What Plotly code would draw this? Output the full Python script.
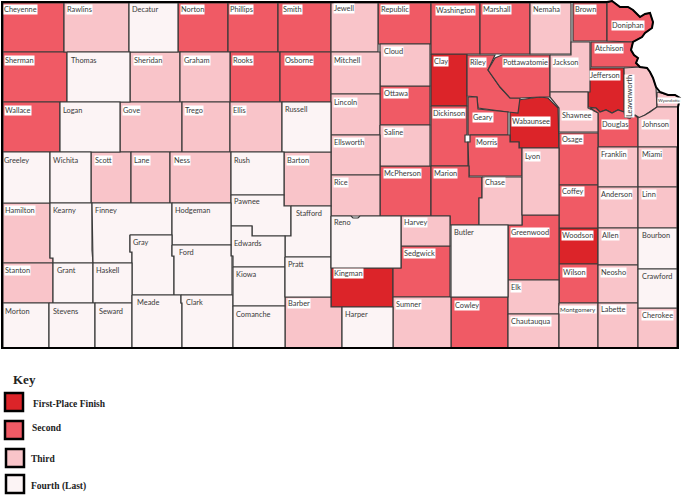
import plotly.graph_objects as go

# results by county: which place each one finished in
first_place = ["Clay", "Wabaunsee", "Jefferson", "Kingman", "Woodson"]
second_place = ["Cheyenne", "Norton", "Phillips", "Smith", "Republic", "Washington", "Marshall",
                "Brown", "Doniphan", "Sherman", "Rooks", "Osborne", "Ottawa", "Riley",
                "Pottawatomie", "Atchison", "Wallace", "Dickinson", "Geary", "Morris",
                "McPherson", "Marion", "Douglas", "Osage", "Coffey", "Wilson", "Greenwood",
                "Sedgwick", "Cowley"]
third_place = ["Rawlins", "Jewell", "Nemaha", "Cloud", "Mitchell", "Jackson", "Sheridan", "Graham",
               "Lincoln", "Saline", "Ellsworth", "Rice", "Gove", "Trego", "Ellis", "Scott", "Lane",
               "Ness", "Barton", "Hamilton", "Stanton", "Barber", "Harvey", "Sumner", "Chase",
               "Lyon", "Shawnee", "Leavenworth", "Wyandotte", "Johnson", "Franklin", "Miami",
               "Anderson", "Linn", "Allen", "Neosho", "Elk", "Chautauqua", "Montgomery",
               "Labette", "Cherokee"]
fourth_place = ["Decatur", "Thomas", "Logan", "Russell", "Greeley", "Wichita", "Rush", "Pawnee",
                "Stafford", "Edwards", "Kearny", "Finney", "Hodgeman", "Gray", "Ford", "Grant",
                "Haskell", "Morton", "Stevens", "Seward", "Meade", "Clark", "Kiowa", "Comanche",
                "Pratt", "Reno", "Harper", "Butler", "Bourbon", "Crawford"]

key_labels = ["First-Place Finish", "Second", "Third", "Fourth (Last)"]
key_colors = ["#DC2429", "#F05A65", "#F9C4C9", "#FCF4F5"]


def box(x0, y0, x1, y1):
    return [(x0, y0), (x1, y0), (x1, y1), (x0, y1)]


# county outlines (no county geojson offline)
shapes = {
    "Cheyenne": box(3, 3, 64, 52), "Rawlins": box(64, 3, 129, 52), "Decatur": box(129, 3, 178, 52),
    "Norton": box(178, 3, 228, 52), "Phillips": box(228, 3, 278, 52), "Smith": box(278, 3, 331, 52),
    "Jewell": box(331, 3, 378, 52), "Republic": box(378, 3, 431, 44),
    "Washington": box(431, 3, 480, 54), "Marshall": box(480, 3, 530, 54), "Nemaha": box(530, 3, 571, 54),
    "Brown": box(573, 3, 607, 41),
    "Doniphan": [(607, 3), (612, 1), (620, 7), (628, 7), (633, 10), (640, 17), (645, 14), (650, 13),
                 (653, 22), (652, 28), (645, 33), (642, 37), (633, 42), (607, 41)],
    "Sherman": box(3, 52, 67, 102), "Thomas": box(67, 52, 130, 102), "Sheridan": box(130, 52, 180, 102),
    "Graham": box(180, 52, 230, 102), "Rooks": box(230, 52, 280, 102), "Osborne": box(280, 52, 331, 102),
    "Mitchell": box(331, 52, 380, 94), "Cloud": box(380, 44, 430, 86), "Ottawa": box(380, 86, 430, 125),
    "Clay": box(431, 54, 467, 106),
    "Riley": [(467, 55), (495, 55), (488, 70), (500, 87), (510, 98), (520, 98), (518, 113), (508, 112),
              (478, 108), (477, 97), (467, 96)],
    "Pottawatomie": [(502, 55), (550, 55), (550, 97), (540, 97), (520, 98), (510, 98), (500, 87),
                     (488, 70), (495, 58)],
    "Jackson": [(550, 55), (571, 55), (571, 42), (590, 42), (590, 92), (550, 92)],
    "Atchison": [(591, 42), (633, 42), (631, 50), (634, 55), (638, 58), (636, 63), (640, 67), (591, 67)],
    "Jefferson": [(588, 68), (624, 68), (624, 112), (618, 110), (612, 113), (606, 110), (600, 112),
                  (596, 108), (588, 107)],
    "Leavenworth": [(624, 68), (640, 67), (647, 68), (650, 72), (653, 78), (656, 87), (657, 107),
                    (650, 112), (645, 115), (640, 118), (635, 115), (630, 118), (625, 117)],
    "Wyandotte": [(657, 92), (668, 95), (675, 95), (680, 98), (678, 107), (657, 107)],
    "Wallace": box(3, 102, 60, 152), "Logan": box(60, 102, 120, 152), "Gove": box(120, 102, 182, 152),
    "Trego": box(182, 102, 230, 152), "Ellis": box(230, 102, 282, 152), "Russell": box(282, 102, 331, 152),
    "Lincoln": box(331, 94, 380, 135), "Ellsworth": box(331, 135, 380, 175), "Saline": box(380, 125, 430, 166),
    "Dickinson": [(431, 106), (467, 106), (467, 135), (465, 135), (465, 142), (468, 142), (468, 166), (431, 166)],
    "Geary": [(468, 97), (477, 97), (478, 109), (508, 112), (508, 135), (470, 135), (468, 135)],
    "Morris": [(470, 135), (510, 135), (510, 142), (519, 142), (519, 148), (522, 148), (522, 176),
               (469, 176), (468, 142), (470, 142)],
    "Wabaunsee": [(510, 113), (518, 100), (540, 97), (548, 98), (558, 108), (559, 148), (519, 148),
                  (519, 142), (510, 142)],
    "Shawnee": [(550, 92), (588, 92), (588, 108), (598, 113), (598, 132), (559, 132), (559, 108), (550, 97)],
    "Douglas": [(590, 108), (596, 108), (600, 112), (606, 110), (612, 113), (618, 110), (624, 112),
                (625, 117), (630, 118), (635, 115), (638, 118), (638, 147), (598, 147), (598, 113)],
    "Johnson": [(638, 118), (645, 115), (650, 112), (657, 107), (678, 107), (678, 147), (638, 147)],
    "Greeley": box(3, 152, 50, 203), "Wichita": box(50, 152, 91, 203), "Scott": box(91, 152, 131, 203),
    "Lane": box(131, 152, 170, 203), "Ness": box(170, 152, 231, 203), "Rush": box(231, 152, 284, 195),
    "Barton": box(284, 152, 331, 206), "Rice": box(331, 175, 380, 216), "McPherson": box(380, 166, 431, 216),
    "Marion": [(431, 166), (469, 166), (469, 177), (482, 177), (482, 198), (479, 198), (479, 225),
               (450, 225), (450, 216), (431, 216)],
    "Chase": [(482, 177), (522, 177), (522, 225), (479, 225), (479, 198), (482, 198)],
    "Lyon": box(522, 148, 559, 215), "Osage": box(559, 133, 598, 185),
    "Franklin": box(598, 147, 638, 187), "Miami": box(638, 147, 677, 187),
    "Coffey": box(559, 185, 598, 228), "Anderson": box(598, 187, 638, 228), "Linn": box(638, 187, 677, 228),
    "Hamilton": [(3, 203), (50, 203), (50, 258), (53, 258), (53, 263), (3, 263)],
    "Kearny": [(50, 203), (92, 203), (92, 250), (93, 263), (53, 263), (53, 258), (50, 258)],
    "Finney": [(92, 203), (172, 203), (172, 235), (130, 235), (130, 252), (132, 252), (132, 263), (93, 263)],
    "Hodgeman": box(172, 203, 231, 245),
    "Gray": [(130, 235), (172, 235), (172, 256), (174, 256), (174, 295), (132, 295), (132, 252), (130, 252)],
    "Ford": [(172, 245), (231, 245), (231, 256), (232, 256), (232, 295), (174, 295), (174, 256), (172, 256)],
    "Pawnee": [(231, 195), (284, 195), (284, 206), (291, 206), (291, 236), (252, 236), (252, 226), (231, 226)],
    "Edwards": [(231, 226), (252, 226), (252, 236), (285, 236), (285, 267), (233, 267), (233, 256), (231, 256)],
    "Stafford": [(291, 206), (331, 206), (331, 257), (285, 257), (285, 236), (291, 236)],
    "Reno": [(331, 216), (351, 216), (353, 218), (358, 218), (360, 216), (401, 216), (401, 268), (331, 268)],
    "Harvey": box(401, 216, 450, 246),
    "Sedgwick": [(401, 246), (450, 246), (450, 297), (393, 297), (393, 268), (401, 268)],
    "Butler": box(451, 225, 508, 297),
    "Greenwood": [(522, 215), (559, 215), (559, 280), (508, 280), (508, 225), (522, 225)],
    "Woodson": box(559, 228, 598, 264), "Allen": box(598, 228, 638, 265), "Bourbon": box(638, 228, 677, 269),
    "Stanton": box(3, 263, 53, 303), "Grant": box(53, 263, 93, 303), "Haskell": box(93, 263, 132, 303),
    "Kiowa": box(233, 267, 285, 306), "Pratt": box(285, 257, 331, 297), "Kingman": box(331, 268, 393, 307),
    "Wilson": box(559, 264, 598, 303), "Neosho": box(598, 265, 638, 303), "Crawford": box(638, 269, 677, 308),
    "Elk": box(508, 280, 559, 314),
    "Morton": box(3, 303, 49, 348), "Stevens": box(49, 303, 95, 348), "Seward": box(95, 303, 132, 348),
    "Meade": [(132, 295), (181, 295), (181, 303), (182, 303), (182, 348), (132, 348)],
    "Clark": [(181, 295), (233, 295), (233, 348), (182, 348), (182, 303), (181, 303)],
    "Comanche": box(233, 306, 285, 348),
    "Barber": [(285, 297), (331, 297), (331, 307), (342, 307), (342, 348), (285, 348)],
    "Harper": box(342, 307, 393, 348), "Sumner": box(393, 297, 451, 348), "Cowley": box(451, 297, 508, 348),
    "Chautauqua": box(508, 314, 559, 348), "Montgomery": box(559, 303, 598, 348),
    "Labette": box(598, 303, 638, 348), "Cherokee": box(638, 308, 677, 348),
}

# where each name sits (left end, middle of the text)
label_at = {
    "Cheyenne": (4, 9), "Rawlins": (67, 9), "Decatur": (132, 9), "Norton": (181, 9), "Phillips": (230, 9),
    "Smith": (283, 9), "Jewell": (334, 8), "Republic": (381, 9), "Washington": (436, 10), "Marshall": (483, 9),
    "Nemaha": (533, 9), "Brown": (575, 9), "Doniphan": (612, 25), "Sherman": (5, 60), "Thomas": (71, 60),
    "Sheridan": (134, 60), "Graham": (184, 60), "Rooks": (233, 60), "Osborne": (285, 60), "Mitchell": (334, 60),
    "Cloud": (384, 51), "Ottawa": (384, 93), "Clay": (434, 61), "Riley": (470, 62), "Pottawatomie": (503, 62),
    "Jackson": (553, 62), "Atchison": (595, 48), "Jefferson": (590, 75), "Leavenworth": (630, 96),
    "Wyandotte": (658, 100), "Wallace": (5, 110), "Logan": (63, 110), "Gove": (123, 110), "Trego": (185, 110),
    "Ellis": (233, 110), "Russell": (285, 109), "Lincoln": (334, 102), "Ellsworth": (334, 142), "Saline": (384, 132),
    "Dickinson": (433, 113), "Geary": (473, 117), "Morris": (476, 142), "Wabaunsee": (512, 121),
    "Shawnee": (562, 115), "Douglas": (602, 124), "Johnson": (642, 124), "Greeley": (4, 160), "Wichita": (53, 160),
    "Scott": (95, 160), "Lane": (134, 160), "Ness": (174, 160), "Rush": (234, 160), "Barton": (287, 160),
    "Rice": (334, 182), "McPherson": (384, 173), "Marion": (434, 173), "Chase": (485, 182), "Lyon": (525, 156),
    "Osage": (562, 139), "Franklin": (601, 154), "Miami": (642, 154), "Coffey": (562, 191), "Anderson": (601, 194),
    "Linn": (642, 194), "Hamilton": (5, 210), "Kearny": (53, 210), "Finney": (95, 210), "Hodgeman": (175, 210),
    "Gray": (133, 242), "Ford": (179, 252), "Pawnee": (234, 201), "Edwards": (234, 243), "Stafford": (296, 213),
    "Reno": (334, 222), "Harvey": (404, 222), "Sedgwick": (404, 253), "Butler": (454, 232), "Greenwood": (511, 232),
    "Woodson": (562, 235), "Allen": (602, 235), "Bourbon": (642, 235), "Stanton": (5, 270), "Grant": (57, 270),
    "Haskell": (96, 270), "Kiowa": (236, 274), "Pratt": (288, 264), "Kingman": (334, 273), "Wilson": (563, 272),
    "Neosho": (601, 272), "Crawford": (642, 276), "Elk": (511, 287), "Morton": (5, 311), "Stevens": (53, 311),
    "Seward": (99, 311), "Meade": (137, 302), "Clark": (186, 302), "Comanche": (236, 314), "Barber": (288, 303),
    "Harper": (345, 314), "Sumner": (396, 304), "Cowley": (455, 305), "Chautauqua": (511, 321),
    "Montgomery": (560, 309), "Labette": (601, 309), "Cherokee": (642, 315),
}

places = [first_place, second_place, third_place, fourth_place]
key_spots = [(14, 402), (14, 430), (15, 458), (15, 484)]
key_text = [(31, 404), (30, 428), (29, 459), (29, 486)]

fig = go.Figure()
annotations = []

for place, color in zip(places, key_colors):
    for name in place:
        pts = shapes[name] + [shapes[name][0]]
        fig.add_trace(go.Scatter(
            x=[p[0] for p in pts], y=[p[1] for p in pts],
            mode="lines", fill="toself", fillcolor=color,
            line=dict(color="#3a3a3a", width=1.2),
            name=name, hoverinfo="name", showlegend=False,
        ))
        size = 7.4
        if name == "Wyandotte":
            size = 4.5
        elif name == "Montgomery":
            size = 6.2
        annotations.append(dict(
            x=label_at[name][0] - 1, y=label_at[name][1], text=name, showarrow=False,
            xanchor="left", yanchor="middle", borderpad=0,
            bgcolor="rgba(0,0,0,0)" if color == key_colors[3] else "white",
            font=dict(family="Lato", size=size, color="#3a3a3a"),
        ))

annotations[[a["text"] for a in annotations].index("Leavenworth")].update(
    textangle=-90, xanchor="center", bgcolor="white")

# state border, heavier than the county lines
river = [(607, 2), (612, 1), (620, 7), (628, 7), (633, 10), (640, 17), (645, 14), (650, 13), (653, 22),
         (652, 28), (645, 33), (642, 37), (633, 42), (631, 50), (634, 55), (638, 58), (636, 63), (640, 67),
         (647, 68), (650, 72), (653, 78), (656, 87), (660, 92), (668, 95), (675, 95), (680, 98), (678, 107),
         (678, 348), (2, 348), (2, 2), (607, 2)]
fig.add_trace(go.Scatter(x=[p[0] for p in river], y=[p[1] for p in river], mode="lines",
                         line=dict(color="black", width=2), hoverinfo="skip", showlegend=False))

# key
fig.add_trace(go.Scatter(
    x=[k[0] for k in key_spots], y=[k[1] for k in key_spots], mode="markers",
    marker=dict(symbol="square", size=18, color=key_colors, line=dict(color="black", width=2.5)),
    text=key_labels, hoverinfo="text", showlegend=False,
))
for label, spot in zip(key_labels, key_text):
    annotations.append(dict(x=spot[0], y=spot[1], text="<b>" + label + "</b>", showarrow=False,
                            xanchor="left", yanchor="middle",
                            font=dict(family="Liberation Serif", size=9.5, color="#222222")))
annotations.append(dict(x=11, y=379, text="<b>Key</b>", showarrow=False, xanchor="left", yanchor="middle",
                        font=dict(family="Liberation Serif", size=13, color="#222222")))

fig.update_layout(
    width=685, height=499,
    margin=dict(l=0, r=0, t=0, b=0),
    paper_bgcolor="white", plot_bgcolor="white",
    annotations=annotations,
    xaxis=dict(range=[0, 685], visible=False),
    yaxis=dict(range=[499, 0], visible=False),
)

fig.write_html("out.html", config={"displayModeBar": False},
               post_script="document.body.style.margin='0';")
